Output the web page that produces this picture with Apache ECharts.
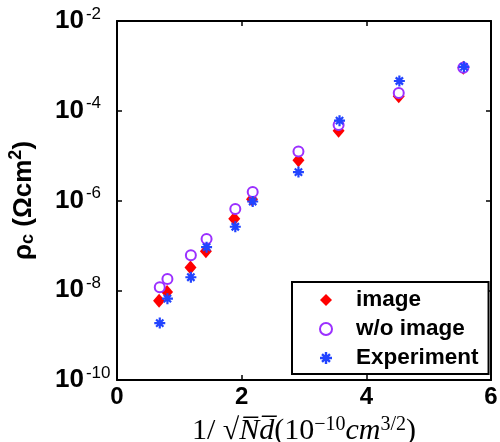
<!DOCTYPE html>
<html><head><meta charset="utf-8">
<script src="https://cdn.jsdelivr.net/npm/echarts@6/dist/echarts.min.js"></script>
<style>html,body{margin:0;padding:0;background:#fff}#c{width:500px;height:442px}</style>
</head><body><div id="c"></div>
<script>
const xImage = [0.675,0.803,1.179,1.426,1.881,2.166,2.911,3.555,4.52,5.556];
const yImage = [5.8e-9,9.1e-9,3.2e-8,7.4e-8,3.9e-7,1.07e-6,7.9e-6,3.6e-5,2.1e-4,9.1e-4];
const xNoImage = [0.686,0.809,1.185,1.437,1.898,2.177,2.911,3.555,4.52,5.556];
const yNoImage = [1.17e-8,1.78e-8,6.0e-8,1.38e-7,6.5e-7,1.55e-6,1.23e-5,4.8e-5,2.5e-4,9.1e-4];
const xExp = [0.686,0.809,1.185,1.437,1.898,2.177,2.911,3.57,4.53,5.566];
const yExp = [1.86e-9,6.5e-9,1.95e-8,9.1e-8,2.6e-7,9.5e-7,4.3e-6,6.0e-5,4.6e-4,9.5e-4];
const xTicks = [0,2,4,6];
const seriesNames = ['image','w/o image','Experiment'];

const pair = (xs, ys) => xs.map((x,i)=>[x, ys[i]]);
const starPath = 'path://M4,0H6V10H4ZM0,4H10V6H0ZM1,2.4L2.4,1L9,7.6L7.6,9ZM7.6,1L9,2.4L2.4,9L1,7.6Z';
const F = 'Arial, "Liberation Sans", Helvetica, sans-serif';
const SERIF = '"Liberation Serif","DejaVu Serif",serif';
const axisLineStyle = {color:'#000', width:2};
const tick = {show:true, inside:true, length:5, lineStyle:{color:'#000', width:1.5}};

const chart = echarts.init(document.getElementById('c'), null, {renderer:'canvas'});
chart.setOption({
  backgroundColor:'#fff',
  animation:false,
  grid:{left:117, right:9, top:21, bottom:62, show:false, containLabel:false, outerBoundsMode:'none'},
  legend:{
    data: seriesNames, orient:'vertical', left:292, top:282,
    backgroundColor:'#fff', borderColor:'#000', borderWidth:2, borderRadius:0,
    padding:[6,10,4,27], itemWidth:12, itemHeight:12, itemGap:5,
    textStyle:{fontFamily:F, fontWeight:'bold', fontSize:22.5, color:'#000', lineHeight:24, padding:[0,0,0,19]}
  },
  xAxis:[
    {type:'value', min:0, max:6, interval:2, position:'bottom',
     axisLine:{show:true, onZero:false, lineStyle:axisLineStyle}, axisTick:tick, splitLine:{show:false},
     axisLabel:{fontFamily:F, fontWeight:'bold', fontSize:24, color:'#000', margin:5,
       formatter: v => xTicks.indexOf(v) >= 0 ? String(v) : ''},
     name:'{a|1/ √}{i|N\u0305d\u0305}{a|(10}{s|−10}{i|cm}{s|3/2}{a|)}', nameLocation:'middle', nameGap:35,
     nameTextStyle:{rich:{
       a:{fontFamily:SERIF, fontSize:30, color:'#000'},
       i:{fontFamily:SERIF, fontStyle:'italic', fontSize:30, color:'#000'},
       s:{fontFamily:SERIF, fontSize:20, color:'#000', padding:[0,0,13,0]}
     }}},
    {type:'value', min:0, max:6, interval:2, position:'top',
     axisLine:{show:true, onZero:false, lineStyle:axisLineStyle}, axisTick:tick, axisLabel:{show:false}, splitLine:{show:false}}
  ],
  yAxis:[
    {type:'log', logBase:100, min:1e-10, max:1e-2, position:'left',
     axisLine:{show:true, onZero:false, lineStyle:axisLineStyle}, axisTick:tick, splitLine:{show:false}, minorTick:{show:false},
     axisLabel:{margin:62, align:'left', formatter: v => '{b|10}{s|' + Math.round(Math.log10(v)) + '}',
       rich:{
         b:{fontFamily:F, fontWeight:'bold', fontSize:26, color:'#000'},
         s:{fontFamily:F, fontSize:17, color:'#000', padding:[0,0,14,2]}
       }},
     name:'{a|ρ}{c|c}{a| (Ωcm}{s|2}{a|)}', nameLocation:'middle', nameGap:76,
     nameTextStyle:{rich:{
       a:{fontFamily:F, fontWeight:'bold', fontSize:26, color:'#000'},
       c:{fontFamily:F, fontWeight:'bold', fontSize:18, color:'#000', padding:[9,0,0,0]},
       s:{fontFamily:F, fontWeight:'bold', fontSize:18, color:'#000', padding:[0,0,16,0]}
     }}},
    {type:'log', logBase:100, min:1e-10, max:1e-2, position:'right',
     axisLine:{show:true, onZero:false, lineStyle:axisLineStyle}, axisTick:tick, axisLabel:{show:false}, splitLine:{show:false}}
  ],
  series:[
    {name:seriesNames[0], type:'scatter', data:pair(xImage,yImage), symbol:'diamond', symbolSize:[12,14],
     itemStyle:{color:'#ff0000', opacity:1}},
    {name:seriesNames[1], type:'scatter', data:pair(xNoImage,yNoImage), symbol:'emptyCircle', symbolSize:10,
     itemStyle:{color:'#9b30ff', borderColor:'#9b30ff', borderWidth:2, opacity:1}},
    {name:seriesNames[2], type:'scatter', data:pair(xExp,yExp), symbol:starPath, symbolSize:11,
     itemStyle:{color:'#2244ff', opacity:1}}
  ]
});
</script></body></html>
